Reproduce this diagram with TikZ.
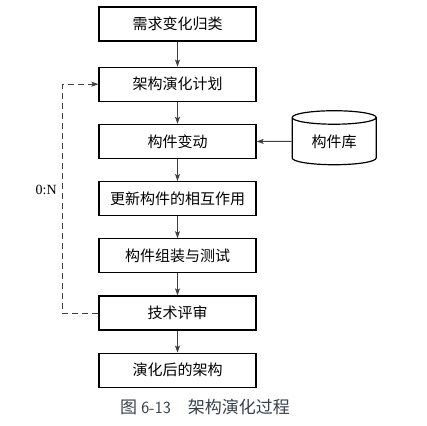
\documentclass[tikz,border=0pt]{standalone}
\usepackage{fontspec}
\setmainfont{Liberation Serif}
\newfontfamily\cjk{Noto Sans CJK SC}
\usetikzlibrary{positioning,shapes.geometric,arrows.meta}
\definecolor{capgray}{HTML}{35404C}

\begin{document}
\begin{tikzpicture}[>={Stealth[length=7pt,width=5pt,inset=1.5pt]},
  stepbox/.style={draw, line width=1.2pt, minimum width=157pt, minimum height=34pt, inner sep=0pt, font=\cjk\fontsize{15}{17}\selectfont},
  flow/.style={->, draw=black!75, line width=1pt},
  dashloop/.style={->, draw=black!75, line width=0.8pt, dash pattern=on 6pt off 4pt}]
\useasboundingbox (0,0) rectangle (427pt,-425pt);
% ----------------- Main column -----------------
\node (classify) [stepbox] at (177.5pt,-24pt) {需求变化归类};
\node (plan) [stepbox, below=25pt of classify] {架构演化计划};
\node (change) [stepbox, below=22pt of plan] {构件变动};
\node (update) [stepbox, below=22pt of change] {更新构件的相互作用};
\node (test) [stepbox, below=22pt of update] {构件组装与测试};
\node (review) [stepbox, below=22pt of test] {技术评审};
\node (result) [stepbox, below=22pt of review] {演化后的架构};

% ----------------- Component store -----------------
\node (store) [cylinder, shape border rotate=90, draw, line width=1.2pt, minimum width=84pt, minimum height=54pt, aspect=0.3, inner sep=0pt, font=\cjk\fontsize{15}{17}\selectfont, right=35pt of change] {构件库};

% ----------------- Arrows -----------------
\draw[flow] (classify) -- (plan);
\draw[flow] (plan) -- (change);
\draw[flow] (change) -- (update);
\draw[flow] (update) -- (test);
\draw[flow] (test) -- (review);
\draw[flow] (review) -- (result);
\draw[flow] (store) -- (change);
\draw[dashloop] (review.west) -- ++(-36pt,0) |- node[pos=0.27, left=2pt] (count) {\fontsize{14}{16}\selectfont 0:N} (plan.west);

% ----------------- Caption -----------------
\node (caption) [text=capgray, font=\fontsize{17}{19}\selectfont] at (205pt,-407pt) {{\cjk 图} {\sffamily 6-13}\quad{\cjk 架构演化过程}};
\end{tikzpicture}
\end{document}
